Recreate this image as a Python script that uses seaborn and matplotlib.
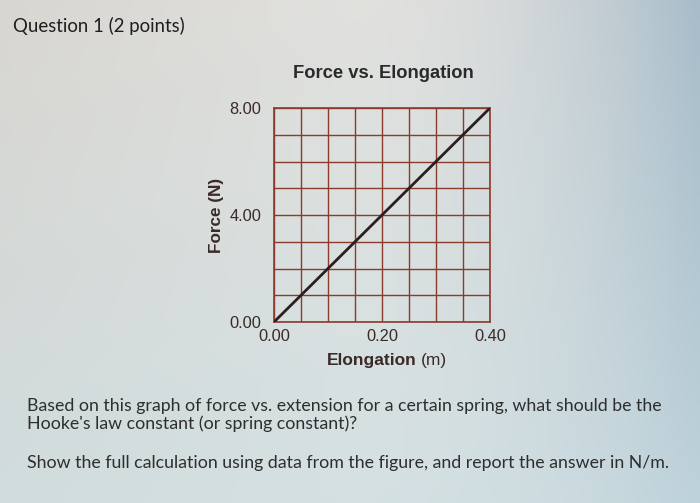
import numpy as np
import pandas as pd
import matplotlib
matplotlib.use("Agg")
import matplotlib.pyplot as plt
import seaborn as sns

# ---- data ----
elongation = [0.00, 0.40]
force = [0.00, 8.00]
x_ticks = [0.00, 0.20, 0.40]
y_ticks = [0.00, 4.00, 8.00]
x_tick_labels = ["0.00", "0.20", "0.40"]
y_tick_labels = ["0.00", "4.00", "8.00"]

df = pd.DataFrame({"Elongation": elongation, "Force": force})

sns.set_theme(style="white")
plt.rcParams['font.family'] = ['Liberation Sans', 'DejaVu Sans']

fig = plt.figure(figsize=(7.0, 5.03), dpi=100)

# background gradient (photo of screen)
bg = fig.add_axes([0, 0, 1, 1], zorder=-10)
h, w = 60, 100
xx = np.linspace(0, 1, w)[None, :]
yy = np.linspace(0, 1, h)[:, None]
left = np.array([0.85, 0.84, 0.82])
mid = np.array([0.88, 0.88, 0.87])
right = np.array([0.66, 0.74, 0.79])
bottom = np.array([0.80, 0.88, 0.90])
img = np.zeros((h, w, 3))
for c in range(3):
    horiz = np.where(xx < 0.5, left[c] + (mid[c] - left[c]) * (xx / 0.5),
                     mid[c] + (right[c] - mid[c]) * ((xx - 0.5) / 0.5) ** 2)
    img[:, :, c] = horiz * (1 - yy * 0.6) + bottom[c] * yy * 0.6
bg.imshow(img, aspect='auto', extent=[0, 1, 1, 0], interpolation='bilinear')
bg.set_axis_off()

grid_col = "#8a3b2c"
text_col = "#3a2a28"

ax = fig.add_axes([274/700, 1-322/503, (490-274)/700, (322-108)/503])
ax.set_facecolor("none")
sns.lineplot(data=df, x="Elongation", y="Force", ax=ax, color="#2b2020",
             linewidth=2.0, zorder=5)
ax.set_xlim(0, 0.4)
ax.set_ylim(0, 8)
ax.set_xticks(x_ticks)
ax.set_xticklabels(x_tick_labels)
ax.set_yticks(y_ticks)
ax.set_yticklabels(y_tick_labels)
ax.set_xticks(np.arange(0, 0.41, 0.05), minor=True)
ax.set_yticks(np.arange(0, 8.1, 1.0), minor=True)
ax.grid(True, which='both', color=grid_col, linewidth=1.0)
for s in ax.spines.values():
    s.set_color(grid_col)
    s.set_linewidth(1.2)
ax.tick_params(axis='x', which='major', labelsize=11.8, labelcolor=text_col,
               length=0, pad=5)
ax.tick_params(axis='y', which='major', labelsize=11.8, labelcolor=text_col,
               length=8, color=grid_col, width=0.8, pad=1)
ax.tick_params(axis='both', which='minor', length=0)
ax.set_xlabel("")
ax.set_ylabel("")

fig.text(383/700, 1-73/503, "Force vs. Elongation", ha='center', va='center',
         fontsize=13.2, fontweight='bold', color="#2a2a2a")
t = fig.text(327/700, 1-360/503, "Elongation", ha='left', va='center',
             fontsize=12.5, fontweight='bold', color=text_col)
ax.annotate("(m)", xy=(1, 0.5), xycoords=t, xytext=(3, 0), textcoords='offset points',
            ha='left', va='center', fontsize=12.5, color=text_col)
fig.text(216/700, 1-215/503, "Force (N)", ha='center', va='center', rotation=90,
         fontsize=12.3, fontweight='bold', color=text_col)

q_font = ['Lato', 'DejaVu Sans']
q_col = "#2e2e2e"
fig.text(13/700, 1-26/503, "Question 1 (2 points)", ha='left', va='center',
         fontsize=13.4, family=q_font, color="#1e1e1e")
fig.text(27/700, 1-406/503,
         "Based on this graph of force vs. extension for a certain spring, what should be the",
         ha='left', va='center', fontsize=12.8, family=q_font, color=q_col)
fig.text(27/700, 1-424/503, "Hooke's law constant (or spring constant)?",
         ha='left', va='center', fontsize=12.8, family=q_font, color=q_col)
fig.text(27/700, 1-463/503,
         "Show the full calculation using data from the figure, and report the answer in N/m.",
         ha='left', va='center', fontsize=12.8, family=q_font, color=q_col)

fig.savefig("out.png", dpi=100)
